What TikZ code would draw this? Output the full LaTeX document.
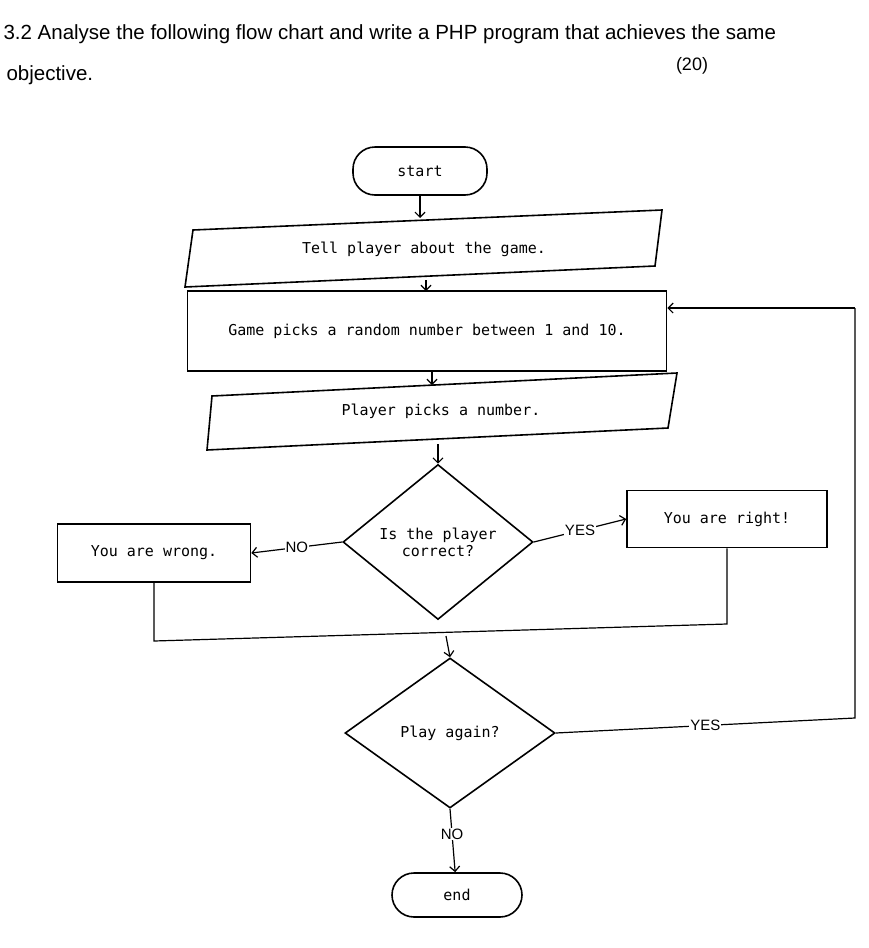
\documentclass[tikz,border=0pt]{standalone}
\usepackage{fontspec}
\setmainfont{Liberation Sans}
\setmonofont{DejaVu Sans Mono}
\usetikzlibrary{shapes.geometric,arrows.meta}
\begin{document}
\begin{tikzpicture}[x=1pt,y=-1pt,
  box/.style={draw,line width=1.6pt,font=\ttfamily\fontsize{15}{17}\selectfont},
  txt/.style={font=\ttfamily\fontsize{15}{17}\selectfont},
  term/.style={draw,line width=1.6pt,rounded corners=22pt,font=\ttfamily\fontsize{15}{17}\selectfont},
  dia/.style={draw,line width=1.6pt,diamond,aspect=1.25,font=\ttfamily\fontsize{15}{17}\selectfont,align=center},
  lab/.style={font=\fontsize{15}{17}\selectfont,fill=white,inner sep=1pt},
  ln/.style={line width=1.2pt},
  ar/.style={ln,-{Straight Barb[length=5pt]}}]
\useasboundingbox (0,0) rectangle (868,948);
\fill[white] (0,0) rectangle (868,948);
\node[anchor=west,font=\fontsize{20.5}{24}\selectfont] (h1) at (0,34) {3.2 Analyse the following flow chart and write a PHP program that achieves the same};
\node[anchor=west,font=\fontsize{20.5}{24}\selectfont] (h2) at (3,75) {objective.};
\node[font=\fontsize{18}{22}\selectfont] (h3) at (692,66) {(20)};

\node[term,minimum width=134pt,minimum height=48pt] (start) at (420,171) {start};
\node[txt,minimum width=460pt,minimum height=66pt] (tell) at (424,249) {Tell player about the game.};
\draw[line width=1.6pt] (193,230) -- (662,210) -- (655,266) -- (185,287) -- cycle;
\node[box,minimum width=479pt,minimum height=80pt] (game) at (427,331) {Game picks a random number between 1 and 10.};
\node[txt,minimum width=460pt,minimum height=66pt] (pick) at (441,411) {Player picks a number.};
\draw[line width=1.6pt] (212,396) -- (677,373) -- (668,428) -- (207,450) -- cycle;
\node[dia,minimum width=190pt,minimum height=155pt] (q1) at (438,542) {Is the player\\correct?};
\node[box,minimum width=193pt,minimum height=58pt] (wrong) at (154,553) {You are wrong.};
\node[box,minimum width=200pt,minimum height=57pt] (right) at (727,519) {You are right!};
\node[dia,minimum width=210pt,minimum height=150pt] (q2) at (450,733) {Play again?};
\node[term,minimum width=130pt,minimum height=44pt] (end) at (457,895) {end};
\coordinate (m) at (446,636);
\coordinate (loopa) at (855,718);
\coordinate (loopb) at (855,308);

\draw[ar] (start.south) -- (420,218);
\draw[ar] (426,280) -- (426,291);
\draw[ar] (432,371) -- (432,385);
\draw[ar] (pick.south -| q1.north) -- (q1.north);
\draw[ar] (q1.west) -- node[lab]{NO} (wrong.east);
\draw[ar] (q1.east) -- node[lab]{YES} (right.west);
\draw[ln] (wrong.south) -- (154,641) -- (727,624) -- (right.south);
\draw[ar] (m) -- (q2.north);
\draw[ln] (q2.east) -- node[lab]{YES} (loopa) -- (loopb);
\draw[ar] (loopb) -- (game.east |- loopb);
\draw[ar] (q2.south) -- node[lab,pos=0.4]{NO} (end);
\end{tikzpicture}
\end{document}
